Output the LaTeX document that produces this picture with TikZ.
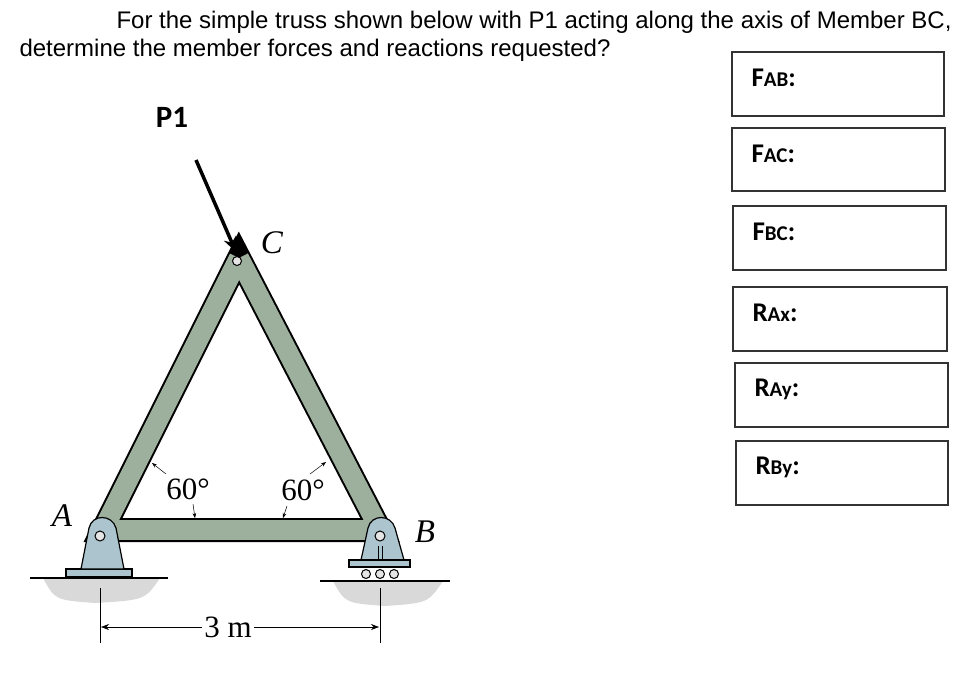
\documentclass[tikz,border=0pt]{standalone}
\usepackage{fontspec}
\setmainfont{Liberation Sans}
\newfontfamily\carl{Carlito}
\newfontfamily\tms{Liberation Serif}
\usetikzlibrary{arrows.meta}
\begin{document}
\begin{tikzpicture}[x=1pt,y=-1pt,
  ansbox/.style={draw=black!80,line width=1.2pt},
  member/.style={line width=24pt,draw=black},
  memberin/.style={line width=20pt,draw=green!10!gray!70},
  lbl/.style={font=\tms\itshape\fontsize{33}{33}\selectfont},
  ang/.style={font=\tms\fontsize{31}{31}\selectfont},
  sup/.style={fill=cyan!30!gray!60,draw=black,line width=1.2pt},
  pin/.style={fill=gray!20,line width=1pt},
  dim/.style={-{Stealth[length=8pt]},line width=0.6pt}]
\useasboundingbox (0,0) rectangle (968,683);
% title
\node[font=\fontsize{24}{26}\selectfont,anchor=west] (t1) at (113,22) {For the simple truss shown below with P1 acting along the axis of Member BC,};
\node[font=\fontsize{24}{26}\selectfont,anchor=west] (t2) at (16,50) {determine the member forces and reactions requested?};
% answer boxes
\newcommand{\abox}[6]{\draw[ansbox] (#1,#2) rectangle (#3,#4);
  \node[anchor=west,font=\carl\bfseries\fontsize{27}{27}\selectfont] at (#1+16,#2+26) {#5{\fontsize{21}{21}\selectfont #6}:};}
\abox{732}{52}{944}{116}{F}{AB}
\abox{732}{128}{945}{191}{F}{AC}
\abox{733}{206}{946}{270}{F}{BC}
\abox{733}{287}{947}{351}{R}{Ax}
\abox{735}{363}{948}{427}{R}{Ay}
\abox{736}{441}{948}{505}{R}{By}
% ground
\foreach \xa/\xb/\yy in {35/165/578,325/448/581}{
  \fill[gray!30] (\xa+8,\yy) -- (\xb-5,\yy) .. controls (\xb-20,\yy+22) .. (\xa+60,\yy+25) .. controls (\xa+20,\yy+22) .. cycle;}
\draw[line width=1.2pt] (30,578) -- (168,578);
\draw[line width=1.2pt] (320,581) -- (450,581);
% members
\coordinate (A) at (103,530); \coordinate (B) at (380,530); \coordinate (C) at (239,258);
\draw[member] (A) -- (C) -- (B) -- cycle;
\draw[memberin] (A) -- (C); \draw[memberin] (C) -- (B);
\draw[memberin] ([xshift=12]A) -- ([xshift=-12]B);
% supports
\draw[sup] (66,569) rectangle (132,577);
\draw[sup] (81,569) -- (89,528) .. controls (92,514) and (112,514) .. (116,528) -- (124,569) -- cycle;
\draw[pin] (100,536) circle (5);
\draw[sup] (361,560) -- (368,528) .. controls (371,514) and (391,514) .. (395,528) -- (404,560) -- cycle;
\draw[sup] (349,560) rectangle (410,567);
\foreach \xx in {366,380,394} \draw[pin] (\xx,574) circle (4.5);
\draw[pin] (380,536) circle (5);
\draw[line width=0.8pt] (378,546) -- (378,559) (382,546) -- (382,559);
\draw[pin] (C) ++(-2,3) circle (4.5);
% load
\node[font=\carl\bfseries\fontsize{31}{31}\selectfont] (P) at (172,117) {P1};
\coordinate (Ps) at (196,160);
\draw[-{Stealth[length=15pt,width=13pt]},line width=3.5pt] (Ps) -- (236,252);
% labels
\node[lbl] (La) at (62,516) {A};
\node[lbl] (Lb) at (425,532) {B};
\node[lbl] (Lc) at (272,243) {C};
\node[ang] (a1) at (188,489) {60°};
\node[ang] (a2) at (303,490) {60°};
\draw[-{Stealth[length=5pt]},line width=0.5pt] (166,474) -- (152,463);
\draw[-{Stealth[length=5pt]},line width=0.5pt] (193,504) -- (195,518);
\draw[-{Stealth[length=5pt]},line width=0.5pt] (310,474) -- (326,462);
\draw[-{Stealth[length=5pt]},line width=0.5pt] (287,506) -- (283,518);
% dimension
\draw[line width=0.6pt] (100,588) -- (100,643) (380,588) -- (380,643);
\node[ang,fill=white,inner sep=2pt] (dm) at (228,627) {3 m};
\draw[dim] (dm.west) -- (101,627);
\draw[dim] (dm.east) -- (379,627);
\end{tikzpicture}
\end{document}
